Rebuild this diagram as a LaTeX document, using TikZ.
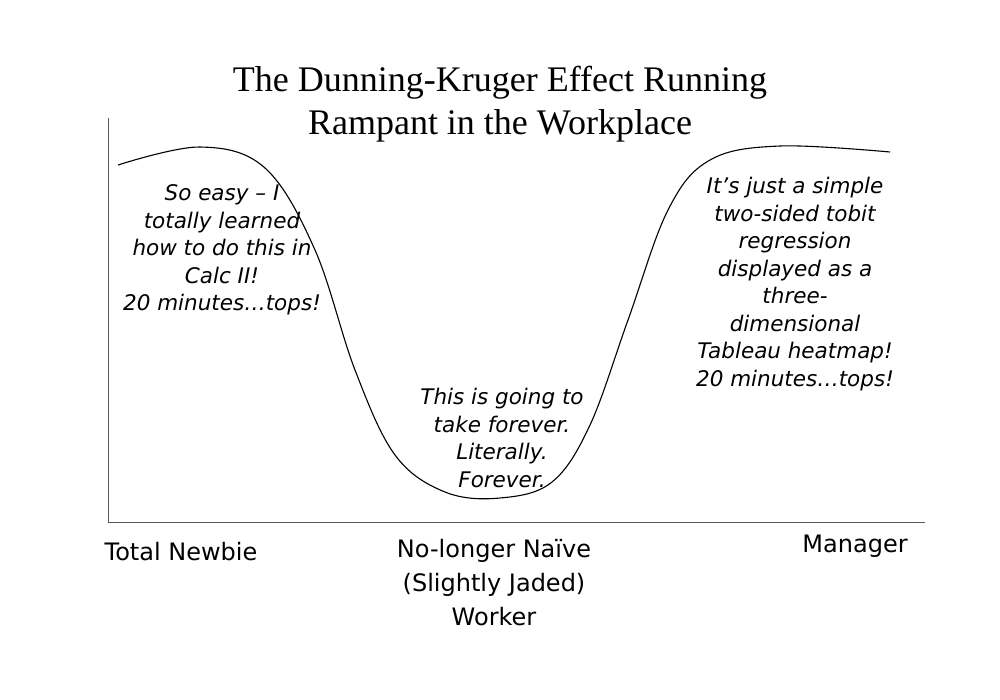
\documentclass[tikz,border=0pt]{standalone}
\usepackage{fontspec}
\setmainfont{Liberation Serif}
\newfontfamily\handfont{DejaVu Sans}
\begin{document}
\begin{tikzpicture}[x=1pt,y=-1pt,
  quote/.style={font=\handfont\itshape\fontsize{21.5}{27.5}\selectfont,align=center,inner sep=0},
  axlabel/.style={font=\handfont\fontsize{24}{34}\selectfont,align=center,inner sep=0}]
\useasboundingbox[fill=white] (0,0) rectangle (1000,699);
\node[font=\fontsize{36}{43}\selectfont,align=center,inner sep=0] (title) at (500,104) {The Dunning-Kruger Effect Running\\Rampant in the Workplace};
\coordinate (top) at (108,118);
\coordinate (origin) at (108,522);
\coordinate (right) at (925,522);
\draw[line width=0.6pt,gray!70!black] (top) -- (origin) -- (right);
\draw[line width=1.1pt] plot[smooth,tension=0.6] coordinates {(118,165) (200,147) (265,168) (315,250) (355,370) (395,455) (445,492) (500,498) (552,482) (590,425) (628,320) (668,210) (710,160) (780,146) (890,152)};
\node[quote] (q1) at (222,250) {So easy – I\\totally learned\\how to do this in\\Calc II!\\20 minutes…tops!};
\node[quote] (q2) at (502,438) {This is going to\\take forever.\\Literally.\\Forever.};
\node[quote] (q3) at (795,284) {It’s just a simple\\two-sided tobit\\regression\\displayed as a\\three-\\dimensional\\Tableau heatmap!\\20 minutes…tops!};
\node[axlabel] (l1) at (181,552) {Total Newbie};
\node[axlabel] (l2) at (494,583) {No-longer Naïve\\(Slightly Jaded)\\Worker};
\node[axlabel] (l3) at (855,546) {Manager};
\end{tikzpicture}
\end{document}
